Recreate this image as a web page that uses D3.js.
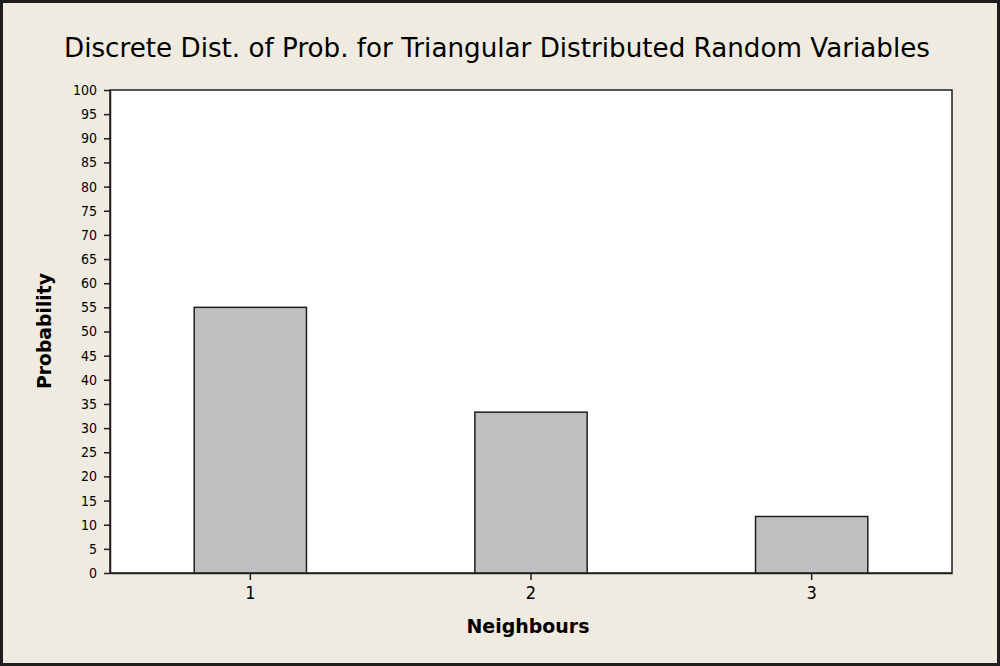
<!DOCTYPE html>
<html>
<head>
<meta charset="utf-8">
<script src="https://cdn.jsdelivr.net/npm/d3@7"></script>
<style>
  body { margin: 0; background: #efebe1; }
  svg { display: block; }
</style>
</head>
<body>
<script>
// data
const neighbours = ['1', '2', '3']
const probability = [55, 33.3, 11.7]
const yTicks = d3.range(0, 101, 5)

const WIDTH = 1000
const HEIGHT = 666
const plot = { left: 110, top: 90, right: 952, bottom: 573 }

const svg = d3.select('body').append('svg')
  .attr('width', WIDTH)
  .attr('height', HEIGHT)

// outer frame
svg.append('rect')
  .attr('x', 1.5).attr('y', 1.5)
  .attr('width', WIDTH - 3).attr('height', HEIGHT - 3)
  .attr('fill', '#efebe1')
  .attr('stroke', '#1e1e1e')
  .attr('stroke-width', 3)

svg.append('text')
  .attr('x', 497).attr('y', 57)
  .attr('text-anchor', 'middle')
  .attr('font-family', 'DejaVu Sans')
  .attr('font-size', 26)
  .attr('textLength', 866)
  .attr('lengthAdjust', 'spacingAndGlyphs')
  .attr('fill', '#000')
  .text('Discrete Dist. of Prob. for Triangular Distributed Random Variables')

const xScale = d3.scaleBand()
  .domain(neighbours)
  .range([plot.left, plot.right])
  .paddingInner(0.6)
  .paddingOuter(0.3)

const yScale = d3.scaleLinear()
  .domain([0, 100])
  .range([plot.bottom, plot.top])

// plot area
svg.append('rect')
  .attr('x', plot.left).attr('y', plot.top)
  .attr('width', plot.right - plot.left)
  .attr('height', plot.bottom - plot.top)
  .attr('fill', '#fff')
  .attr('stroke', '#1e1e1e')
  .attr('stroke-width', 1.5)

svg.append('g')
  .selectAll('rect')
  .data(probability)
  .enter()
  .append('rect')
  .attr('x', (d, i) => xScale(neighbours[i]))
  .attr('y', d => yScale(d))
  .attr('width', xScale.bandwidth())
  .attr('height', d => yScale(0) - yScale(d))
  .attr('fill', '#c0c0c0')
  .attr('stroke', '#1e1e1e')
  .attr('stroke-width', 1.5)

const axisY = d3.axisLeft(yScale)
  .tickValues(yTicks)
  .tickSize(6)
  .tickSizeOuter(0)
  .tickPadding(7)

const gy = svg.append('g')
  .attr('transform', `translate(${plot.left},0)`)
  .call(axisY)

const axisX = d3.axisBottom(xScale)
  .tickSize(7)
  .tickSizeOuter(0)
  .tickPadding(6)

const gx = svg.append('g')
  .attr('transform', `translate(0,${plot.bottom})`)
  .call(axisX)

;[gx, gy].forEach(g => {
  g.select('.domain').attr('stroke', '#1e1e1e').attr('stroke-width', 1.5)
  g.selectAll('.tick line').attr('stroke', '#1e1e1e').attr('stroke-width', 1.5)
  g.selectAll('.tick text')
    .attr('font-family', 'DejaVu Sans Condensed')
    .attr('fill', '#000')
})
gy.selectAll('.tick text').attr('font-size', 14)
gx.selectAll('.tick text').attr('font-size', 18)

svg.append('text')
  .attr('x', 528).attr('y', 633)
  .attr('text-anchor', 'middle')
  .attr('font-family', 'DejaVu Sans')
  .attr('font-weight', 'bold')
  .attr('font-size', 19)
  .attr('textLength', 123)
  .attr('lengthAdjust', 'spacingAndGlyphs')
  .text('Neighbours')

svg.append('text')
  .attr('transform', 'translate(51,331) rotate(-90)')
  .attr('text-anchor', 'middle')
  .attr('font-family', 'DejaVu Sans')
  .attr('font-weight', 'bold')
  .attr('font-size', 19)
  .attr('textLength', 116)
  .attr('lengthAdjust', 'spacingAndGlyphs')
  .text('Probability')
</script>
</body>
</html>
